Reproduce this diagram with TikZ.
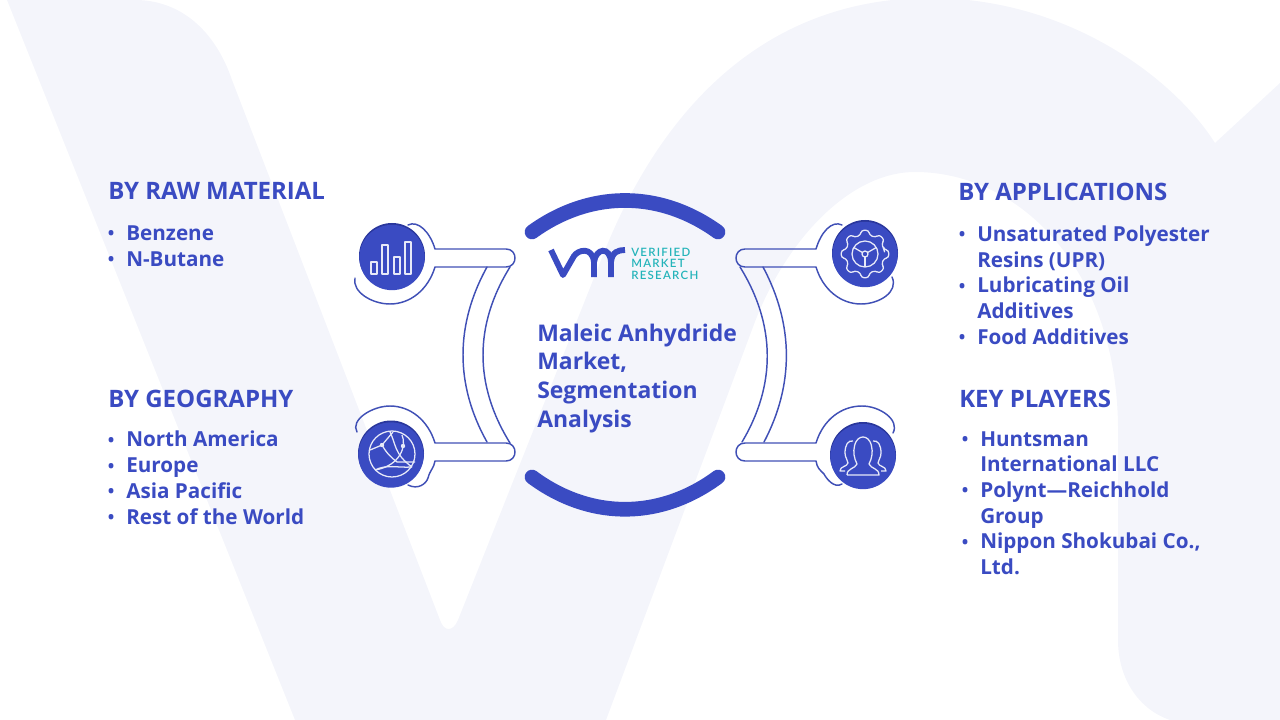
\documentclass[tikz,border=0pt]{standalone}
\usepackage{fontspec}
\setmainfont{Open Sans}
\newfontfamily\logofont[LetterSpace=11]{Lato Semibold}
\usetikzlibrary{positioning}
\definecolor{paleback}{HTML}{F4F5FB}
\definecolor{vmblue}{HTML}{3A4BC2}
\definecolor{vmdark}{HTML}{2A379C}
\definecolor{vmline}{HTML}{4050B6}
\definecolor{vmteal}{HTML}{25B4BA}
\newcommand{\bul}{\leavevmode\llap{\raisebox{0.5pt}{\fontsize{13}{13}\selectfont\textbullet}\hspace{9pt}}}
\tikzset{head/.style = {anchor=north west, inner sep=0, text=vmblue, font=\bfseries\fontsize{18}{22}\selectfont}}
\tikzset{list/.style = {anchor=north west, inner sep=0, text=vmblue, align=left, font=\bfseries\fontsize{15.5}{19.3}\selectfont}}
\tikzset{title/.style = {anchor=north west, inner sep=0, text=vmblue, align=left, font=\bfseries\fontsize{17.2}{21.5}\selectfont}}
\tikzset{logotext/.style = {anchor=base west, inner sep=0, text=vmteal, font=\logofont\fontsize{8.6}{8.6}\selectfont}}
\tikzset{icon/.style = {fill=vmblue, circle, inner sep=0, minimum size=49pt}}
\tikzset{link/.style = {draw=vmline, line width=1.1pt, line cap=round, line join=round}}
\tikzset{band/.style = {draw=vmblue, line width=11pt, line cap=round}}
\tikzset{iconline/.style = {draw=white!88!vmblue, line width=0.95pt, line join=round}}
\begin{document}
\begin{tikzpicture}[x=0.75pt, y=-0.75pt]
  \useasboundingbox (0, 0) rectangle (1280, 720);
  \begin{scope}
    \clip (0, 0) rectangle (1280, 720);
    \fill [paleback] (7, 0) -- (295, 720) -- (606, 720) -- (753, 327)
      .. controls (785, 240) and (850, 172) .. (915, 172)
      .. controls (1020, 172) and (1118, 270) .. (1118, 430) -- (1118, 640)
      .. controls (1118, 680) and (1140, 710) .. (1170, 720) -- (1280, 720) -- (1280, 83) -- (1215, 143)
      .. controls (1175, 80) and (1070, -2) .. (930, -2)
      .. controls (780, -2) and (670, 90) .. (605, 250) -- (458, 620)
      .. controls (453, 632) and (444, 632) .. (440, 620) -- (232, 80)
      .. controls (215, 30) and (180, 0) .. (135, 0) -- cycle;
  \end{scope}

  \draw [band] (532, 232) .. controls (590, 190) and (660, 190) .. (718, 232);
  \draw [band] (532, 477) .. controls (590, 520) and (660, 520) .. (718, 477);

  \draw [link] (408, 225) .. controls (418, 220) and (430, 232) .. (435, 249) -- (506, 249)
    .. controls (518, 249) and (518, 267) .. (506, 267) -- (435, 267)
    .. controls (428, 290) and (410, 304) .. (390, 304)
    .. controls (372, 304) and (352, 292) .. (355, 278);
  \draw [link] (408, 485) .. controls (418, 490) and (426, 484) .. (428, 478)
    .. controls (430, 470) and (434, 468) .. (435, 461) -- (506, 461)
    .. controls (518, 461) and (518, 443) .. (506, 443) -- (435, 443)
    .. controls (428, 420) and (410, 406) .. (390, 406)
    .. controls (372, 406) and (350, 420) .. (357, 432);
  \draw [link] (842, 225) .. controls (832, 220) and (821, 232) .. (816, 249) -- (745, 249)
    .. controls (733, 249) and (733, 267) .. (745, 267) -- (816, 267)
    .. controls (823, 290) and (841, 304) .. (861, 304)
    .. controls (879, 304) and (899, 292) .. (892, 277);
  \draw [link] (842, 484) .. controls (834, 489) and (826, 478) .. (824, 474)
    .. controls (820, 470) and (817, 468) .. (816, 461) -- (745, 461)
    .. controls (733, 461) and (733, 443) .. (745, 443) -- (816, 443)
    .. controls (823, 420) and (841, 406) .. (862, 406)
    .. controls (880, 406) and (900, 420) .. (893, 433);

  \draw [link] (487, 267) .. controls (455, 325) and (455, 385) .. (487, 442);
  \draw [link] (510, 267) .. controls (474, 325) and (474, 385) .. (510, 443);
  \draw [link] (740, 267) .. controls (776, 325) and (776, 385) .. (742, 442);
  \draw [link] (763, 267) .. controls (794, 325) and (794, 385) .. (764, 442);

  \fill [vmdark] (392, 256) circle (33);
  \fill [vmdark] (391, 453.5) circle (33);
  \fill [vmdark] (865, 253) circle (33);
  \fill [vmdark] (863, 455) circle (33);
  \node [icon] (barsicon) at (392, 257.5) {};
  \node [icon] (globeicon) at (391, 455) {};
  \node [icon] (gearicon) at (865, 254.5) {};
  \node [icon] (peopleicon) at (863, 456.5) {};

  \foreach \xa/\ya in {371/262, 382/245, 394/257, 405/242}
    \draw [iconline] (\xa, \ya) rectangle (\xa + 6, 274);

  \begin{scope}[shift={(392, 454)}]
    \draw [iconline] (0, 0) circle (23);
    \draw [iconline] (-2, -22) .. controls (4, -10) and (2, 0) .. (20, 13);
    \draw [iconline] (10, -19) .. controls (15, -8) and (8, 12) .. (-17, 16);
    \draw [iconline] (-22, -4) -- (-10, -9) -- (1, -22);
    \draw [iconline] (-10, -9) .. controls (-5, 0) and (0, 4) .. (5, 8) -- (23, 8);
    \draw [iconline] (-17, 16) .. controls (-5, 10) and (5, 14) .. (20, 13);
    \fill [white!88!vmblue] (-10, -9) circle (2.2);
    \fill [white!88!vmblue] (11, -8) circle (2.2);
  \end{scope}

  \begin{scope}[shift={(865, 254)}]
    \draw [iconline, rounded corners=2] (-14 : 19.5)
      \foreach \a in {0, 45, ..., 315} { -- (\a - 13 : 19.5) -- (\a - 9 : 24) -- (\a + 9 : 24) -- (\a + 13 : 19.5) } -- cycle;
    \draw [iconline] (0, 0) circle (13);
    \draw [iconline] (0, 0) circle (3);
    \draw [iconline] (90 : 3) -- (90 : 13);
    \draw [iconline] (-30 : 3) -- (-30 : 13);
    \draw [iconline] (210 : 3) -- (210 : 13);
  \end{scope}

  \begin{scope}[shift={(863, 456)}]
    \draw [iconline] (-16, 19) -- (16, 19) .. controls (16, 12) and (8, 13) .. (6, 8)
      .. controls (9, 2) and (10, -4) .. (8.5, -10) .. controls (7, -17) and (3, -19) .. (0, -19)
      .. controls (-3, -19) and (-7, -17) .. (-8.5, -10) .. controls (-10, -4) and (-9, 2) .. (-6, 8)
      .. controls (-8, 13) and (-16, 12) .. (-16, 19);
    \draw [iconline] (10, -15) .. controls (15, -16) and (18, -11) .. (18, -3)
      .. controls (18, 2) and (15, 4) .. (15, 7) .. controls (16, 11) and (23, 10) .. (23, 15) -- (18, 15);
    \draw [iconline] (-10, -15) .. controls (-15, -16) and (-18, -11) .. (-18, -3)
      .. controls (-18, 2) and (-15, 4) .. (-15, 7) .. controls (-16, 11) and (-23, 10) .. (-23, 15) -- (-18, 15);
  \end{scope}

  \draw [draw=vmblue, line width=4.4pt, line join=round] (551, 250) -- (563, 275) -- (574, 256)
    .. controls (578, 250) and (592, 246) .. (594, 262) -- (594, 277);
  \draw [draw=vmblue, line width=4.4pt] (594, 262) .. controls (596, 248) and (610, 246) .. (611, 262) -- (611, 277);
  \draw [draw=vmblue, line width=4.4pt] (611, 262) .. controls (612, 252) and (618, 250) .. (625, 250);
  \node [logotext] (logoa) at (631, 256) {VERIFIED};
  \node [logotext] (logob) at (631, 267.5) {MARKET};
  \node [logotext] (logoc) at (631, 279) {RESEARCH};

  \node [title] (centre) at (537, 323.5) {Maleic Anhydride\\Market,\\Segmentation\\Analysis};

  \node [head] (rawhead) at (108, 182.5) {BY RAW MATERIAL};
  \node [list] (rawlist) at (126, 225.5) {\bul Benzene\\\bul N-Butane};
  \node [head] (geohead) at (108, 389.5) {BY GEOGRAPHY};
  \node [list] (geolist) at (126, 431) {\bul North America\\\bul Europe\\\bul Asia Pacific\\\bul Rest of the World};
  \node [head] (apphead) at (958, 182.5) {BY APPLICATIONS};
  \node [list] (applist) at (977, 225.5) {\bul Unsaturated Polyester\\Resins (UPR)\\\bul Lubricating Oil\\Additives\\\bul Food Additives};
  \node [head] (keyhead) at (959, 389.5) {KEY PLAYERS};
  \node [list] (keylist) at (980, 431) {\bul Huntsman\\International LLC\\\bul Polynt—Reichhold\\Group\\\bul Nippon Shokubai Co.,\\Ltd.};
\end{tikzpicture}
\end{document}
